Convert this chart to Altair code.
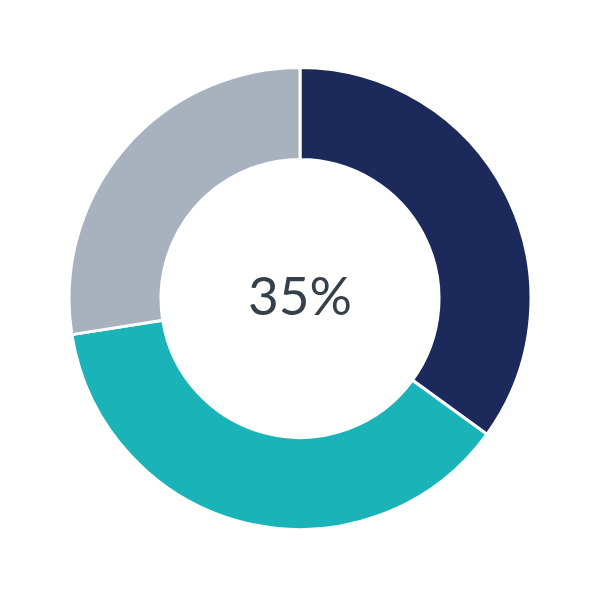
import pandas as pd
import altair as alt

# donut shares, clockwise from the top
segments = ["A", "B", "C"]
shares = [35, 37.5, 27.5]
colors = ["#1b2a5a", "#1ab4b8", "#a8b2bf"]
center_label = "35%"

data = pd.DataFrame({"segment": segments, "share": shares, "order": [0, 1, 2]})

donut = alt.Chart(data).mark_arc(
    radius=231, radius2=139, stroke="white", strokeWidth=3
).encode(
    theta=alt.Theta("share:Q", stack=True),
    order=alt.Order("order:Q"),
    color=alt.Color("segment:N", scale=alt.Scale(domain=segments, range=colors), legend=None),
)

label = alt.Chart(pd.DataFrame({"label": [center_label]})).mark_text(
    font="Lato", fontSize=53, fontWeight=400, color="#36404a", baseline="middle"
).encode(
    text="label:N"
)

chart = alt.layer(donut, label).properties(
    width=584, height=581, padding=0
).configure_view(stroke=None)

chart.save("out.html", embed_options={"renderer": "svg", "actions": False})
